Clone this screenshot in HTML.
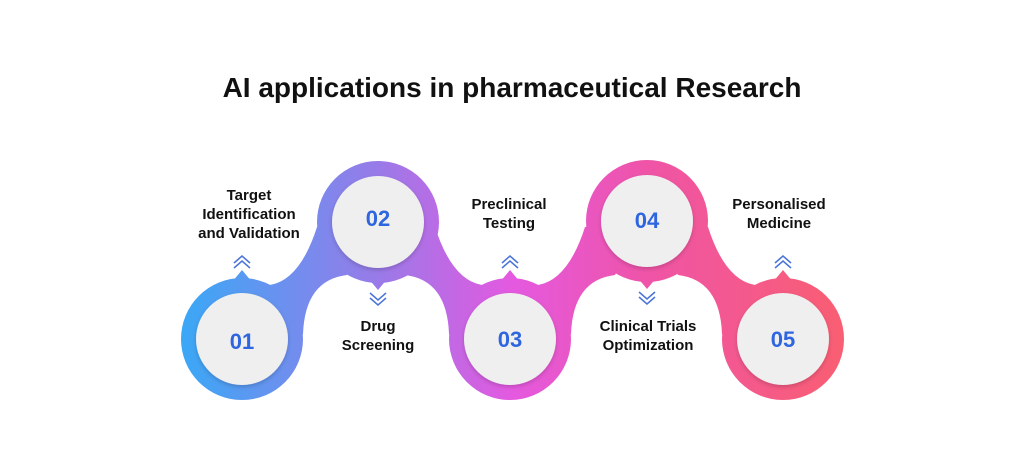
<!DOCTYPE html>
<html><head><meta charset="utf-8"><style>
html,body{margin:0;padding:0;background:#fff;}
svg{display:block}
text{font-family:"Liberation Sans",sans-serif;font-weight:bold;}
</style></head><body>
<svg width="1024" height="475" viewBox="0 0 1024 475" xmlns="http://www.w3.org/2000/svg">
<defs>
<linearGradient id="g" x1="181" y1="0" x2="844" y2="0" gradientUnits="userSpaceOnUse">
<stop offset="0" stop-color="#3aa8f6"/>
<stop offset="0.3" stop-color="#9a7ae8"/>
<stop offset="0.5" stop-color="#e459e0"/>
<stop offset="0.7" stop-color="#ef54a8"/>
<stop offset="1" stop-color="#f95e72"/>
</linearGradient>
<filter id="sh" x="-20%" y="-20%" width="140%" height="140%"><feDropShadow dx="0" dy="2" stdDeviation="2" flood-color="#000" flood-opacity="0.18"/></filter>
</defs>
<text x="512" y="97" text-anchor="middle" font-size="28" fill="#111">AI applications in pharmaceutical Research</text>
<g fill="url(#g)" stroke="none">
<path d="M270 285 Q300 280 317 227 L378 222 L347 275 Q305 280 303 334 L242 339 Z"/>
<path d="M538 285 Q568 280 585 227 L647 221 L615 275 Q573 280 571 334 L510 339 Z"/>
<path d="M482 285 Q452 280 435 227 L378 222 L405 275 Q447 280 449 334 L510 339 Z"/>
<path d="M755 285 Q725 280 708 227 L647 221 L678 275 Q720 280 722 334 L783 339 Z"/>
<circle cx="242" cy="339" r="61"/>
<circle cx="378" cy="222" r="61"/>
<circle cx="510" cy="339" r="61"/>
<circle cx="647" cy="221" r="61"/>
<circle cx="783" cy="339" r="61"/>
<path d="M232 282 L242 270 L252 282Z"/>
<path d="M500 282 L510 270 L520 282Z"/>
<path d="M773 282 L783 270 L793 282Z"/>
<path d="M368 278 L378 290 L388 278Z"/>
<path d="M637 277 L647 289 L657 277Z"/>
</g>
<g fill="#efefef" filter="url(#sh)">
<circle cx="242" cy="339" r="46"/>
<circle cx="378" cy="222" r="46"/>
<circle cx="510" cy="339" r="46"/>
<circle cx="647" cy="221" r="46"/>
<circle cx="783" cy="339" r="46"/>
</g>
<g fill="#2e66e0" font-size="22" text-anchor="middle">
<text x="242" y="349">01</text>
<text x="378" y="226">02</text>
<text x="510" y="347">03</text>
<text x="647" y="228">04</text>
<text x="783" y="347">05</text>
</g>
<g fill="none" stroke="#4b74d8" stroke-width="1.5">
<path d="M234 263 L242 256 L250 263 M234 268 L242 261 L250 268"/>
<path d="M502 263 L510 256 L518 263 M502 268 L510 261 L518 268"/>
<path d="M775 263 L783 256 L791 263 M775 268 L783 261 L791 268"/>
<path d="M370 293 L378 300 L386 293 M370 298 L378 305 L386 298"/>
<path d="M639 292 L647 299 L655 292 M639 297 L647 304 L655 297"/>
</g>
<g fill="#111" font-size="15" text-anchor="middle">
<text x="249" y="200">Target</text>
<text x="249" y="219">Identification</text>
<text x="249" y="238">and Validation</text>
<text x="378" y="331">Drug</text>
<text x="378" y="350">Screening</text>
<text x="509" y="209">Preclinical</text>
<text x="509" y="228">Testing</text>
<text x="648" y="331">Clinical Trials</text>
<text x="648" y="350">Optimization</text>
<text x="779" y="209">Personalised</text>
<text x="779" y="228">Medicine</text>
</g>
</svg>
</body></html>
